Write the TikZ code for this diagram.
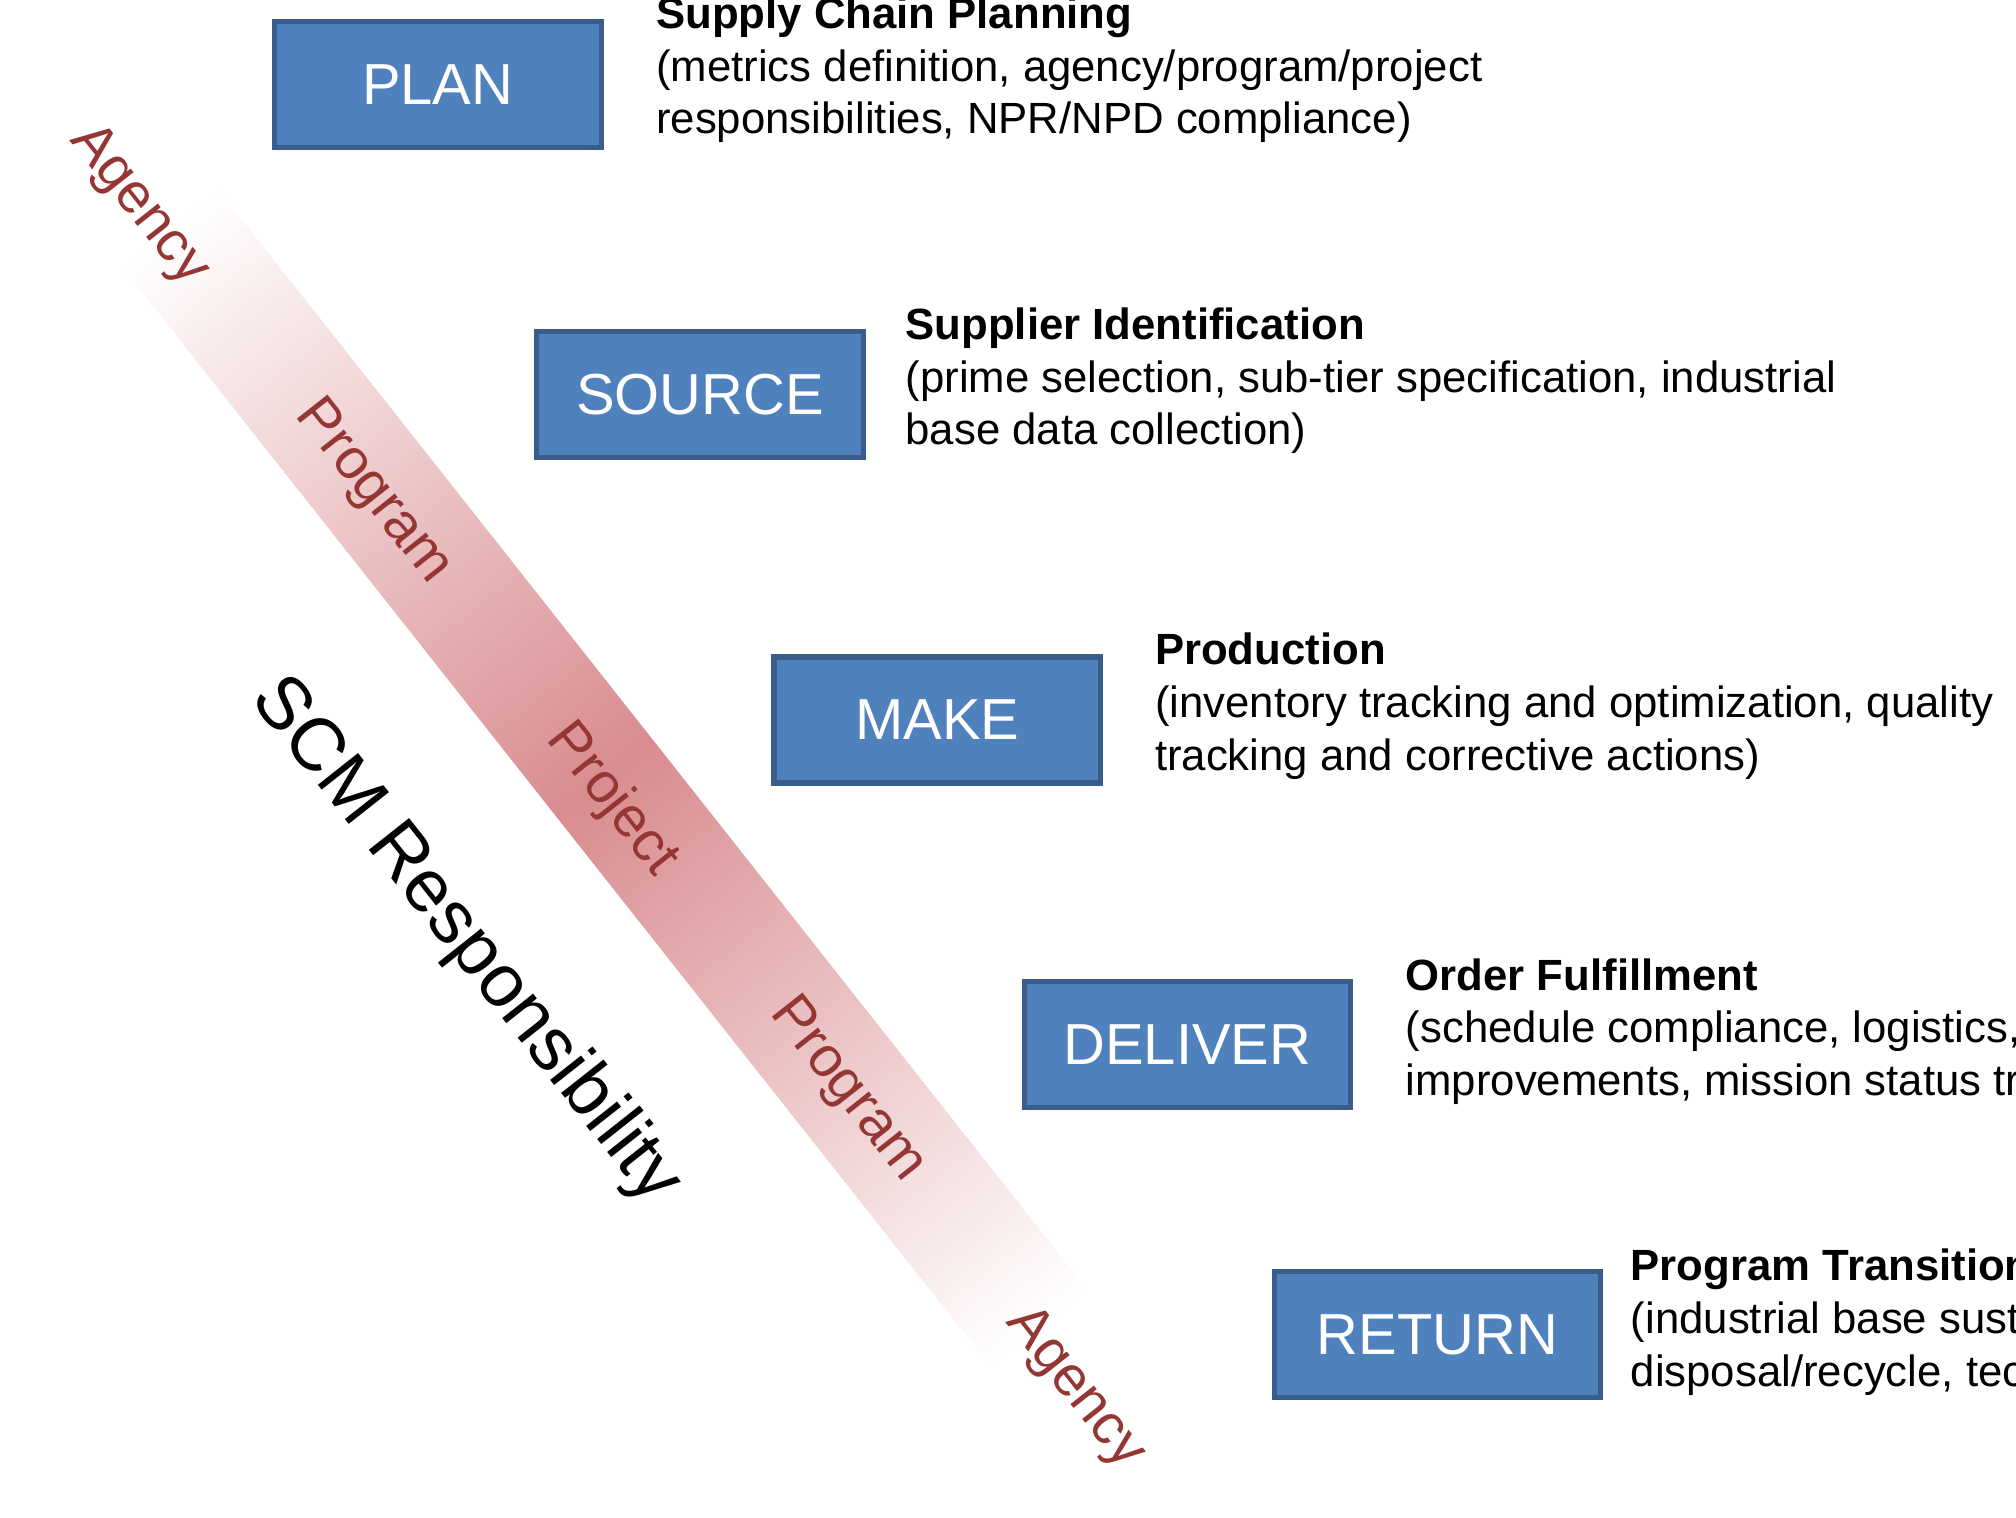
\documentclass[tikz,border=0pt]{standalone}
\usepackage{fontspec}
\usetikzlibrary{calc}
\setmainfont{Liberation Sans}
\definecolor{boxfill}{HTML}{4F81BD}
\definecolor{boxline}{HTML}{385D8A}
\definecolor{bandred}{RGB}{217,140,143}
\definecolor{lab}{HTML}{943634}
\begin{document}
\begin{tikzpicture}[x=0.5pt,y=0.5pt,
  box/.style={draw=boxline,fill=boxfill,line width=2pt,minimum width=127pt,minimum height=49pt,text=white,font=\fontsize{22.5}{25}\selectfont,inner sep=0},
  desc/.style={anchor=north west,align=left,inner sep=0,font=\fontsize{17}{20.5}\selectfont},
  bl/.style={text=lab,font=\fontsize{22}{24}\selectfont,rotate=-51.7}]
\useasboundingbox (0,0) rectangle (1568,-1180);
\clip (0,0) rectangle (1568,-1180);
\shade[top color=white,bottom color=white,middle color=bandred,shading angle=38.3]
  ($(470,-605)+(-51.7:-720)+(38.3:48)$) -- ($(470,-605)+(-51.7:720)+(38.3:48)$) --
  ($(470,-605)+(-51.7:720)+(38.3:-48)$) -- ($(470,-605)+(-51.7:-720)+(38.3:-48)$) -- cycle;
\node[bl] (a1) at (108,-160) {Agency};
\node[bl] (p1) at (290,-383) {Program};
\node[bl] (pr) at (476,-622) {Project};
\node[bl] (p2) at (659,-848) {Program};
\node[bl] (a2) at (836,-1080) {Agency};
\node[rotate=-51.7,font=\fontsize{29}{32}\selectfont] (scm) at (362,-732) {SCM Responsibility};
\node[box] (plan) at (340.5,-65.5) {PLAN};
\node[box] (source) at (544.5,-307) {SOURCE};
\node[box] (make) at (729,-560) {MAKE};
\node[box] (deliver) at (923.5,-812.5) {DELIVER};
\node[box] (return) at (1118,-1038) {RETURN};
\node[desc] (d1) at (510,3) {\textbf{Supply Chain Planning}\\(metrics definition, agency/program/project\\responsibilities, NPR/NPD compliance)};
\node[desc] (d2) at (704,-239) {\textbf{Supplier Identification}\\(prime selection, sub-tier specification, industrial\\base data collection)};
\node[desc] (d3) at (898,-492) {\textbf{Production}\\(inventory tracking and optimization, quality\\tracking and corrective actions)};
\node[desc] (d4) at (1093,-745) {\textbf{Order Fulfillment}\\(schedule compliance, logistics, process\\improvements, mission status tracking)};
\node[desc] (d5) at (1268,-971) {\textbf{Program Transition}\\(industrial base sustainment,\\disposal/recycle, technology)};
\end{tikzpicture}
\end{document}
